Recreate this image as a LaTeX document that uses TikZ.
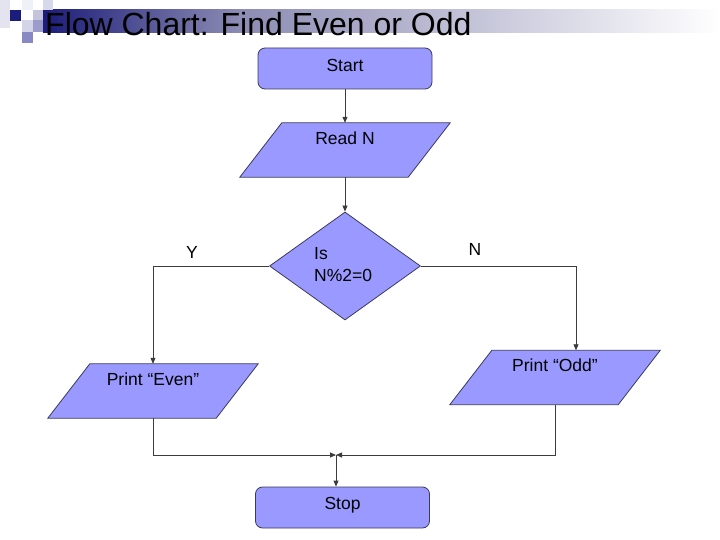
\documentclass[tikz,border=0pt]{standalone}
\usepackage{fontspec}
\setmainfont{Liberation Sans}
\usetikzlibrary{shapes.geometric,arrows.meta,calc}
\definecolor{boxfill}{HTML}{9999FF}
\definecolor{boxline}{HTML}{3A3A5C}
\definecolor{conn}{HTML}{3C3C3C}
\definecolor{navy}{HTML}{1C1C7A}
\definecolor{bandmid}{HTML}{8C8CB4}
\tikzset{
  flowbox/.style={draw=boxline, fill=boxfill, line width=0.8pt, inner sep=0pt},
  termbox/.style={flowbox, rectangle, rounded corners=7pt, minimum width=174pt, minimum height=41pt},
  iobox/.style={rectangle, inner sep=0pt, minimum width=168pt, minimum height=54pt},
  decbox/.style={flowbox, diamond, minimum width=151pt, minimum height=108pt},
  lbl/.style={font=\fontsize{17.5}{22}\selectfont, inner sep=0pt, text=black},
  arr/.style={draw=conn, line width=0.8pt, -{Triangle[length=6pt,width=5pt]}},
  ln/.style={draw=conn, line width=0.8pt}
}
\newcommand\drawpara[1]{%
  \draw[flowbox] ([xshift=21pt]#1.north west) -- ([xshift=21pt]#1.north east)
    -- ([xshift=-21pt]#1.south east) -- ([xshift=-21pt]#1.south west) -- cycle;}
\begin{document}
\begin{tikzpicture}[x=1pt,y=-1pt]
\useasboundingbox (0,0) rectangle (720,540);
% title decoration
\fill[left color=navy, right color=bandmid] (43,10) rectangle (240,33);
\fill[left color=bandmid, right color=white] (240,10) rectangle (720,33);
\fill[fill={rgb,255:red,228;green,228;blue,240}] (0,0) rectangle (10,28);
\fill[fill={rgb,255:red,240;green,240;blue,248}] (22,0) rectangle (33,10);
\fill[fill={rgb,255:red,216;green,216;blue,236}] (43,0) rectangle (53,10);
\fill[navy] (10,10) rectangle (21,21);
\fill[fill={rgb,255:red,196;green,196;blue,220}] (33,10) rectangle (43,20);
\fill[fill={rgb,255:red,212;green,212;blue,232}] (22,20) rectangle (33,32);
\fill[fill={rgb,255:red,136;green,136;blue,196}] (22,32) rectangle (33,43);
\fill[fill={rgb,255:red,156;green,156;blue,204}] (33,20) rectangle (43,32);
\node[anchor=base west, inner sep=0pt, font=\fontsize{32}{38}\selectfont] (title) at (45,36) {Flow Chart: Find Even or Odd};

% shapes
\node[termbox] (start) at (345,68.5) {};
\node[iobox] (read) at (345,150) {};
\drawpara{read}
\node[decbox] (dia) at (345,266) {};
\node[iobox] (even) at (153,391) {};
\drawpara{even}
\node[iobox] (odd) at (555,377.5) {};
\drawpara{odd}
\node[termbox] (stop) at (342.5,507.5) {};

% texts
\node[lbl, anchor=base] (startT) at ([yshift=-23.5pt]start.north) {Start};
\node[lbl, anchor=base] (readT) at ([yshift=-22pt]read.north) {Read N};
\node[lbl, anchor=north west, align=left] (diaT) at (314,247.5) {Is\\N\%2=0};
\node[lbl, anchor=base] (evenT) at ([yshift=-21.7pt]even.north) {Print “Even”};
\node[lbl, anchor=base] (oddT) at ([yshift=-20.7pt]odd.north) {Print “Odd”};
\node[lbl, anchor=base] (stopT) at ([yshift=-23pt]stop.north) {Stop};
\node[lbl] (yl) at (192,252) {Y};
\node[lbl] (nl) at (475,249) {N};

% connectors
\coordinate (junc) at (336,455);
\draw[arr] (start.south) -- (read.north);
\draw[arr] (read.south) -- (dia.north);
\draw[arr] (dia.west) -| (even.north);
\draw[arr] (dia.east) -| ([xshift=21pt]odd.north);
\draw[arr] (even.south) |- (junc);
\draw[arr] (odd.south) |- (junc);
\draw[arr] (junc) -- (junc |- stop.north);
\end{tikzpicture}
\end{document}
